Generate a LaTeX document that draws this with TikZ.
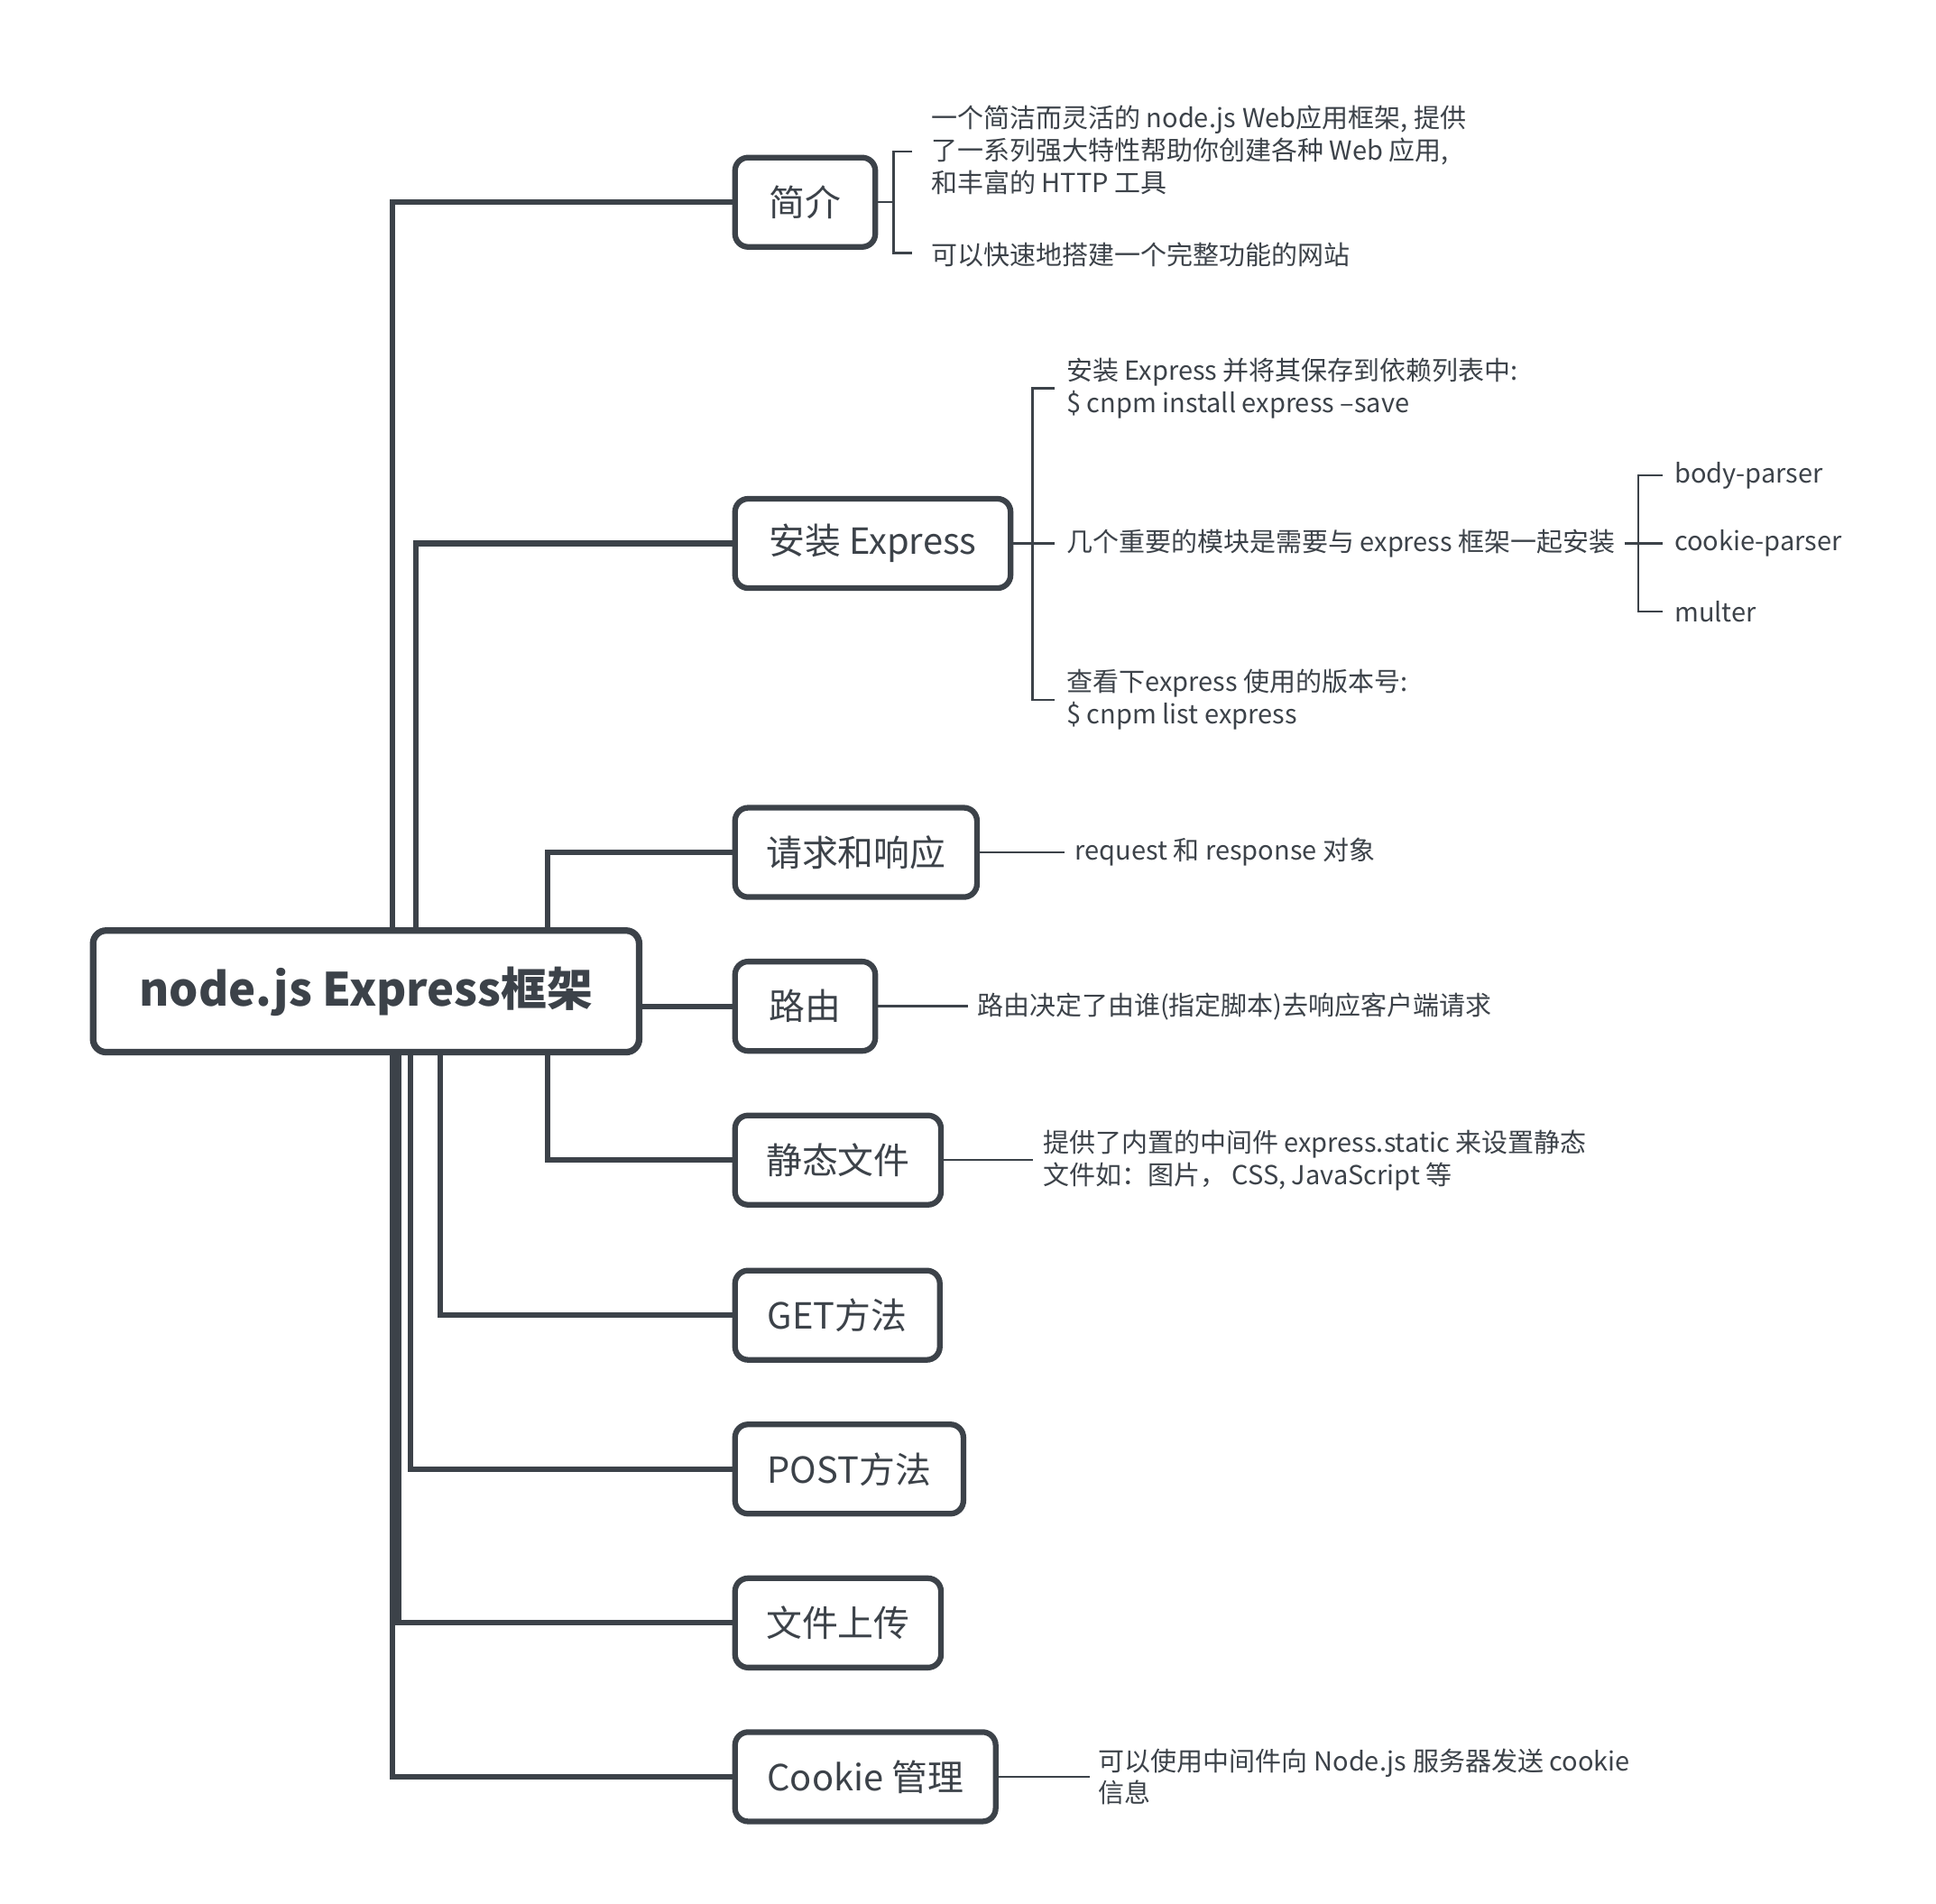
\documentclass[tikz,border=0pt]{standalone}
\usepackage{fontspec}
\setmainfont{Noto Sans CJK SC}
\definecolor{ink}{HTML}{3C4249}
\begin{document}
\begin{tikzpicture}[x=0.02cm, y=-0.02cm, color=ink, text=ink,
    root/.style={draw, line width=3pt, rounded corners=6pt, minimum width=440*0.02cm, minimum height=98*0.02cm, font=\fontsize{21}{25}\selectfont\bfseries},
    topic/.style={draw, line width=2.6pt, rounded corners=6pt, minimum height=72*0.02cm, anchor=west, inner xsep=0.5cm, font=\fontsize{16.5}{20}\selectfont},
    leaf/.style={anchor=west, align=left, inner sep=0pt, font=\fontsize{12}{14.8}\selectfont},
    trunk/.style={line width=2.6pt},
    twig/.style={line width=1pt}]
  \useasboundingbox (0,0) rectangle (1560,1534);
  % root
  \node[root] (root) at (295,799) {node.js Express框架};
  % topics
  \node[topic, minimum width=113*0.02cm] (intro) at (590,163) {简介};
  \node[topic, minimum width=222*0.02cm] (install) at (590,438) {安装 Express};
  \node[topic, minimum width=191*0.02cm] (reqres) at (590,687) {请求和响应};
  \node[topic, minimum width=113*0.02cm] (route) at (590,811) {路由};
  \node[topic, minimum width=165*0.02cm] (static) at (590,935) {静态文件};
  \node[topic, minimum width=165*0.02cm] (get) at (590,1060) {GET方法};
  \node[topic, minimum width=184*0.02cm] (post) at (590,1184) {POST方法};
  \node[topic, minimum width=165*0.02cm] (upload) at (590,1308) {文件上传};
  \node[topic, minimum width=210*0.02cm] (cookie) at (590,1432) {Cookie 管理};
  % trunks
  \draw[trunk] (root.north -| 316,0) |- (intro.west);
  \draw[trunk] (root.north -| 335,0) |- (install.west);
  \draw[trunk] (root.north -| 441,0) |- (reqres.west);
  \draw[trunk] (root.east |- route.west) -- (route.west);
  \draw[trunk] (root.south -| 441,0) |- (static.west);
  \draw[trunk] (root.south -| 355,0) |- (get.west);
  \draw[trunk] (root.south -| 331,0) |- (post.west);
  \draw[trunk] (root.south -| 321,0) |- (upload.west);
  \draw[trunk] (root.south -| 316,0) |- (cookie.west);
  % intro leaves
  \node[leaf] (intro1) at (750,121) {一个简洁而灵活的 node.js Web应用框架, 提供\\了一系列强大特性帮助你创建各种 Web 应用,\\和丰富的 HTTP 工具};
  \node[leaf] (intro2) at (750,205) {可以快速地搭建一个完整功能的网站};
  \coordinate (introfork) at (720,163);
  \draw[twig] (intro.east) -- (introfork);
  \draw[twig] (735,122) -| (introfork) |- (735,204);
  % install leaves
  \node[leaf] (inst1) at (859,313) {安装 Express 并将其保存到依赖列表中:\\\$ cnpm install express --save};
  \node[leaf] (inst2) at (859,438) {几个重要的模块是需要与 express 框架一起安装};
  \node[leaf] (inst3) at (859,564) {查看下express 使用的版本号:\\\$ cnpm list express};
  \coordinate (instfork) at (832,438);
  \draw[twig] (install.east) -- (instfork) -- (850,438);
  \draw[twig] (850,313) -| (instfork) |- (850,564);
  \node[leaf] (mod1) at (1349,383) {body-parser};
  \node[leaf] (mod2) at (1349,438) {cookie-parser};
  \node[leaf] (mod3) at (1349,493) {multer};
  \coordinate (modfork) at (1320,438);
  \draw[twig] ([xshift=7*0.02cm]inst2.east) -- (modfork) -- (1340,438);
  \draw[twig] (1340,383) -| (modfork) |- (1340,493);
  % other leaves
  \node[leaf] (reqres1) at (866,687) {request 和 response 对象};
  \draw[twig] (reqres.east) -- ([xshift=-8*0.02cm]reqres1.west);
  \node[leaf] (route1) at (787,811) {路由决定了由谁(指定脚本)去响应客户端请求};
  \draw[twig] (route.east) -- ([xshift=-7*0.02cm]route1.west);
  \node[leaf] (static1) at (840,935) {提供了内置的中间件 express.static 来设置静态\\文件如：图片， CSS, JavaScript 等};
  \draw[twig] (static.east) -- ([xshift=-8*0.02cm]static1.west);
  \node[leaf] (cookie1) at (885,1432) {可以使用中间件向 Node.js 服务器发送 cookie\\信息};
  \draw[twig] (cookie.east) -- ([xshift=-7*0.02cm]cookie1.west);
\end{tikzpicture}
\end{document}
